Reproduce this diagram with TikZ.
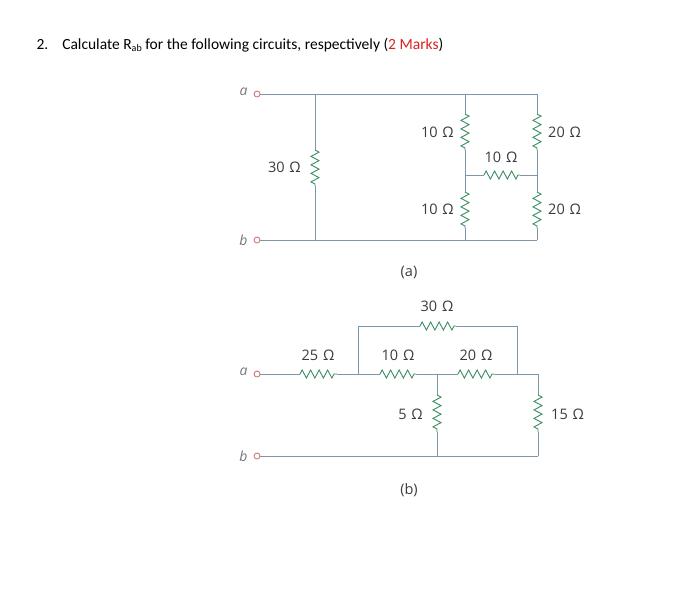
\documentclass[tikz,border=0pt]{standalone}
\usepackage{fontspec}
\setmainfont{Carlito}
\newfontfamily\lblfont{Open Sans}
\usetikzlibrary{decorations.pathmorphing}
\definecolor{wire}{RGB}{125,150,170}
\definecolor{res}{RGB}{60,140,100}
\definecolor{term}{RGB}{205,105,105}
\definecolor{txt}{RGB}{60,60,60}
\definecolor{mark}{RGB}{220,30,30}
\begin{document}
\begin{tikzpicture}[x=1pt,y=-1pt,
  wr/.style={draw=wire,line width=0.9pt},
  rz/.style={draw=res,line width=0.9pt,decorate,decoration={zigzag,segment length=8.5pt,amplitude=4pt}},
  tm/.style={circle,draw=term,line width=0.8pt,inner sep=0pt,minimum size=6pt,fill=white},
  lb/.style={font=\lblfont\fontsize{14.5}{16}\selectfont,text=txt,inner sep=1pt},
  tl/.style={font=\lblfont\itshape\fontsize{14}{16}\selectfont,text=txt!70}]
\useasboundingbox (0,0) rectangle (700,590);
\node[anchor=west,font=\fontsize{15.5}{18}\selectfont] (title) at (33,45) {2.\hspace{14pt}Calculate R\raisebox{-2pt}{\fontsize{10}{12}\selectfont ab} for the following circuits, respectively (\textcolor{mark}{2 Marks})};
% ---- circuit (a)
\coordinate (a1) at (315,94); \coordinate (b1) at (315,240);
\coordinate (m1) at (465,94); \coordinate (m2) at (465,175); \coordinate (m3) at (465,240);
\coordinate (r1) at (537,94); \coordinate (r2) at (537,175); \coordinate (r3) at (537,240);
\node[tm] (ta) at (257,94) {}; \node[tl,anchor=east] (la) at (251,92) {a};
\node[tm] (tb) at (257,240) {}; \node[tl,anchor=east] (lb) at (251,240) {b};
\draw[wr] (ta) -- (r1); \draw[wr] (tb) -- (r3);
\draw[wr] (a1) -- (315,150); \draw[rz] (315,150) -- (315,186); \draw[wr] (315,186) -- (b1);
\draw[wr] (m1) -- (465,114); \draw[rz] (465,114) -- (465,150); \draw[wr] (465,150) -- (m2);
\draw[wr] (m2) -- (465,192); \draw[rz] (465,192) -- (465,228); \draw[wr] (465,228) -- (m3);
\draw[wr] (r1) -- (537,114); \draw[rz] (537,114) -- (537,150); \draw[wr] (537,150) -- (r2);
\draw[wr] (r2) -- (537,192); \draw[rz] (537,192) -- (537,228); \draw[wr] (537,228) -- (r3);
\draw[wr] (m2) -- (484,175); \draw[rz] (484,175) -- (520,175); \draw[wr] (520,175) -- (r2);
\node[lb,anchor=east] (l30) at (302,167) {30\,\,Ω};
\node[lb,anchor=east] (l10a) at (455,132) {10\,\,Ω};
\node[lb,anchor=east] (l10b) at (455,209) {10\,\,Ω};
\node[lb] (l10c) at (501,157) {10\,\,Ω};
\node[lb,anchor=west] (l20a) at (547,132) {20\,\,Ω};
\node[lb,anchor=west] (l20b) at (547,209) {20\,\,Ω};
\node[lb] (ca) at (409,272) {(a)};
% ---- circuit (b)
\node[tm] (tc) at (257,374) {}; \node[tl,anchor=east] (lc) at (251,372) {a};
\node[tm] (td) at (257,456) {}; \node[tl,anchor=east] (ld) at (251,456) {b};
\coordinate (n1) at (358,374); \coordinate (n2) at (437,374); \coordinate (n3) at (517,374); \coordinate (n4) at (538,374);
\coordinate (t1) at (358,326); \coordinate (t2) at (517,326);
\coordinate (g2) at (437,456); \coordinate (g4) at (538,456);
\draw[wr] (tc) -- (300,374); \draw[rz] (300,374) -- (337,374); \draw[wr] (337,374) -- (n1);
\draw[wr] (n1) -- (380,374); \draw[rz] (380,374) -- (416,374); \draw[wr] (416,374) -- (n2);
\draw[wr] (n2) -- (458,374); \draw[rz] (458,374) -- (494,374); \draw[wr] (494,374) -- (n4);
\draw[wr] (n1) -- (t1) -- (420,326); \draw[rz] (420,326) -- (456,326); \draw[wr] (456,326) -- (t2) -- (n3);
\draw[wr] (n2) -- (437,395); \draw[rz] (437,395) -- (437,432); \draw[wr] (437,432) -- (g2);
\draw[wr] (n4) -- (538,395); \draw[rz] (538,395) -- (538,432); \draw[wr] (538,432) -- (g4);
\draw[wr] (td) -- (g4);
\node[lb] (l30b) at (437,306) {30\,\,Ω};
\node[lb] (l25) at (318,355) {25\,\,Ω};
\node[lb] (l10d) at (398,355) {10\,\,Ω};
\node[lb] (l20c) at (476,355) {20\,\,Ω};
\node[lb,anchor=east] (l5) at (424,414) {5\,\,Ω};
\node[lb,anchor=west] (l15) at (550,414) {15\,\,Ω};
\node[lb] (cb) at (409,490) {(b)};
\end{tikzpicture}
\end{document}
